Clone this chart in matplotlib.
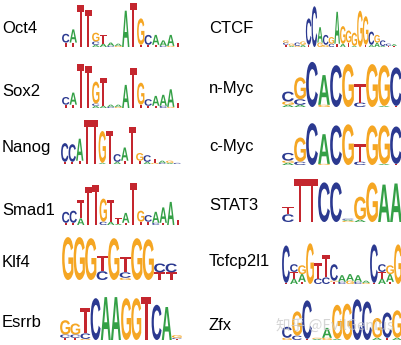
import matplotlib
matplotlib.use('Agg')
import matplotlib.pyplot as plt
from matplotlib.textpath import TextPath
from matplotlib.font_manager import FontProperties
from matplotlib.patches import PathPatch
from matplotlib.path import Path

COLORS = {'A': '#34a046', 'C': '#2b3990', 'G': '#f5a623', 'T': '#c4262e'}

# Each motif: list of positions, each a stack (bottom -> top) of (base, bits)
OCT4 = [[('T', .2), ('C', .4)], [('T', .2), ('A', .6)], [('T', 1.9)], [('T', 1.7)],
        [('A', .1), ('C', .15), ('G', .4)], [('A', .15), ('T', .4)], [('C', .05), ('A', .15)],
        [('G', .05), ('A', .1)], [('A', 1.65)], [('T', 2.0)], [('T', .1), ('G', 1.2)],
        [('T', .1), ('C', .45)], [('T', .1), ('A', .45)], [('C', .05), ('A', .25)],
        [('G', .05), ('A', .5)], [('T', .2)]]
SOX2 = [[('T', .15), ('C', .35)], [('T', .15), ('A', .55)], [('T', 2.0)], [('T', 1.9)],
        [('A', .1), ('C', .1), ('G', 1.0)], [('A', .1), ('T', 1.25)], [('C', .05), ('A', .1)],
        [('G', .05), ('A', .1)], [('A', 1.05)], [('T', 1.8)], [('T', .15), ('G', 1.0)],
        [('T', .1), ('C', .3)], [('T', .1), ('A', .45)], [('C', .1), ('A', .5)],
        [('G', .05), ('A', .8)], [('T', .25)]]
NANOG = [[('T', .1), ('C', .85)], [('T', .1), ('C', .8)], [('T', .15), ('A', 1.0)], [('T', 2.0)],
         [('T', 2.0)], [('A', .05), ('G', 1.45)], [('T', 1.5)], [('A', .1), ('C', .35)],
         [('T', .15), ('A', .6)], [('T', 1.7)], [('T', .15), ('G', .35)], [('A', .1), ('C', .3)],
         [('G', .05), ('T', .2)], [('C', .05), ('A', .1)], [('A', .05), ('G', .1)], [('C', .05)]]
SMAD1 = [[('T', .1), ('C', .5)], [('T', .1), ('C', .55)], [('A', .3), ('T', .85)], [('T', 1.75)],
         [('T', 1.8)], [('C', .15), ('G', 1.05)], [('A', .15), ('T', 1.0)], [('A', .05), ('T', .25)],
         [('T', .1), ('A', .45)], [('T', 1.9)], [('T', .15), ('G', .5)], [('T', .15), ('C', .3)],
         [('C', .1), ('A', .5)], [('T', .1), ('A', .7)], [('A', 1.05)], [('T', .25)]]
KLF4 = [[('G', 1.95)], [('G', 1.95)], [('G', 1.9)], [('C', .4), ('T', .7)], [('G', 1.9)],
        [('G', .1), ('C', .25), ('T', .7)], [('G', 1.9)], [('G', 1.85)],
        [('T', .35), ('C', .4)], [('T', .35), ('C', .4)]]
ESRRB = [[('T', .1), ('C', .15), ('G', .65)], [('T', .1), ('C', .15), ('G', .5)],
         [('G', .05), ('C', .25), ('T', 1.15)], [('C', 1.9)], [('A', 1.95)], [('A', 1.95)],
         [('G', 1.9)], [('G', 1.9)], [('T', 1.95)], [('C', 1.6)], [('A', 1.5)],
         [('T', .05), ('C', .05), ('G', .12)]]
CTCF = [[('T', .1), ('C', .1), ('G', .1)], [('A', .05), ('G', .1)], [('G', .05), ('C', .15)],
        [('A', .1), ('G', .15)], [('T', .1), ('C', 1.2)], [('C', 1.85)], [('G', .2), ('A', .7)],
        [('G', .1), ('C', .45)], [('C', .15), ('G', .3)], [('T', .15), ('A', 1.45)],
        [('A', .15), ('G', .8)], [('T', .2), ('G', .55)], [('A', .05), ('G', .6)], [('G', 1.65)],
        [('T', .1), ('G', 1.3)], [('A', .1), ('C', .6)], [('A', .2), ('G', .35)],
        [('A', .05), ('C', .25)], [('T', .05), ('C', .1)], [('T', .05), ('A', .08)]]
NMYC = [[('A', .1), ('G', .15), ('C', .45)], [('A', .1), ('C', .25), ('G', 1.0)], [('C', 2.05)],
        [('G', .1), ('A', 1.35)], [('C', 1.9)], [('G', 1.95)], [('C', .2), ('T', .85)],
        [('G', 1.95)], [('A', .05), ('G', 1.85)], [('T', .05), ('C', 1.75)]]
CMYC = [[('A', .1), ('G', .1), ('C', .35)], [('C', .15), ('G', 1.1)], [('C', 1.9)],
        [('G', .05), ('A', 1.35)], [('C', 1.8)], [('G', 1.85)], [('C', .15), ('T', .8)],
        [('G', 1.8)], [('A', .05), ('G', 1.75)], [('T', .05), ('C', 1.7)]]
STAT3 = [[('C', .35), ('T', .35)], [('T', 1.95)], [('T', 1.95)], [('C', 1.8)], [('C', 1.8)],
         [('G', .05), ('A', .05), ('C', .05)], [('A', .1), ('G', 1.05)], [('G', 1.8)],
         [('A', 1.7)], [('A', 1.75)]]
TCFCP2L1 = [[('T', .05), ('C', 1.7)], [('A', .25), ('T', .3), ('C', .35)],
            [('T', .1), ('A', .35), ('G', .4)], [('G', 1.85)], [('C', .25), ('T', .7)],
            [('C', .3), ('T', 1.0)], [('T', .1), ('G', .05), ('C', .75)], [('C', .1), ('A', .3)],
            [('G', .15), ('A', .3)], [('C', .1), ('A', .3)], [('G', .05), ('A', .1)],
            [('T', .05), ('C', 1.75)], [('A', .25), ('T', .3), ('C', .35)],
            [('T', .1), ('A', .35), ('G', .4)], [('G', 1.8)]]
ZFX = [[('G', .1), ('C', .5)], [('C', .2), ('G', 1.1)], [('T', .05), ('C', 1.75)],
       [('A', .05), ('G', .05)], [('G', .1), ('A', .45)], [('A', .05), ('G', 1.55)],
       [('G', 1.65)], [('C', 1.85)], [('C', 1.75)], [('A', .1), ('G', .9)],
       [('T', .1), ('C', 1.15)], [('A', .1), ('G', 1.25)]]

LABELS_LEFT = ['Oct4', 'Sox2', 'Nanog', 'Smad1', 'Klf4', 'Esrrb']
LABELS_RIGHT = ['CTCF', 'n-Myc', 'c-Myc', 'STAT3', 'Tcfcp2l1', 'Zfx']
MOTIFS_LEFT = [OCT4, SOX2, NANOG, SMAD1, KLF4, ESRRB]
MOTIFS_RIGHT = [CTCF, NMYC, CMYC, STAT3, TCFCP2L1, ZFX]

# layout (pixels)
LEFT_LABEL_Y = [33, 96, 152, 215, 267, 327]
RIGHT_LABEL_Y = [33, 93, 151, 210, 266, 330]
LEFT_BASE = [47, 108, 164, 225, 280, 340]
RIGHT_BASE = [47, 107, 165, 222, 284, 340]
LEFT_X = [(62, 182), (62, 182), (61, 181), (62, 182), (62, 177), (60, 182)]
RIGHT_X = [(283, 397), (282, 402), (282, 402), (282, 402), (282, 402), (282, 402)]
PX_PER_BIT = 22.0

W, H = 402, 345
fig = plt.figure(figsize=(W / 100, H / 100), dpi=100)
ax = fig.add_axes([0, 0, 1, 1])
ax.set_xlim(0, W)
ax.set_ylim(H, 0)
ax.axis('off')

fp = FontProperties(family='Liberation Sans', weight='bold')
glyphs = {}
for L in 'ACGT':
    tp = TextPath((0, 0), L, size=1, prop=fp)
    ext = tp.get_extents()
    glyphs[L] = (tp, ext.x0, ext.x1, ext.y0, ext.y1)


def draw_letter(L, x0, w, ybot, h):
    tp, gx0, gx1, gy0, gy1 = glyphs[L]
    v = tp.vertices.copy()
    v[:, 0] = x0 + (v[:, 0] - gx0) / (gx1 - gx0) * w
    v[:, 1] = ybot - (v[:, 1] - gy0) / (gy1 - gy0) * h
    ax.add_patch(PathPatch(Path(v, tp.codes), facecolor=COLORS[L], lw=0, clip_on=True))


def draw_logo(motif, xr, base):
    n = len(motif)
    w = (xr[1] - xr[0]) / n
    for i, stack in enumerate(motif):
        y = base
        for L, bits in stack:
            h = bits * PX_PER_BIT
            draw_letter(L, xr[0] + i * w + 0.01 * w, 0.98 * w, y, h)
            y -= h


lab_fp = dict(family='Liberation Sans', fontsize=12, color='black', va='baseline', ha='left')
for lab, y in zip(LABELS_LEFT, LEFT_LABEL_Y):
    ax.text(2, y, lab, **lab_fp)
for lab, y in zip(LABELS_RIGHT, RIGHT_LABEL_Y):
    ax.text(209, y, lab, **lab_fp)

for m, xr, b in zip(MOTIFS_LEFT, LEFT_X, LEFT_BASE):
    draw_logo(m, xr, b)
for m, xr, b in zip(MOTIFS_RIGHT, RIGHT_X, RIGHT_BASE):
    draw_logo(m, xr, b)

ax.text(276, 326, '知乎 @EvilGenius', family=['Noto Sans CJK SC', 'DejaVu Sans'],
        fontsize=10.5, color='#c8c8c8', alpha=0.75, va='center', ha='left')

fig.savefig('out.png', dpi=100)
